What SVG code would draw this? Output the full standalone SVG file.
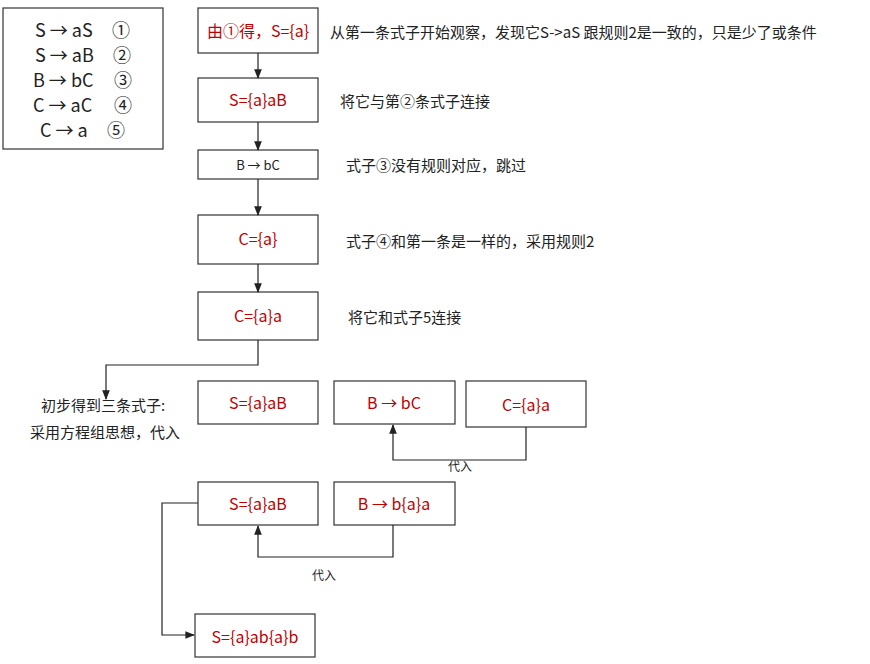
<svg xmlns="http://www.w3.org/2000/svg" width="870" height="664" viewBox="0 0 870 664">
<style>
text{font-family:"Noto Sans CJK SC","Noto Sans",sans-serif}
.b{fill:#fff;stroke:#333;stroke-width:1.2}
.r{fill:#c00000;font-size:16px;text-anchor:middle}
.k{fill:#222;font-size:15px}
.l{fill:#222;font-size:18px}
.c{fill:none;stroke:#222;stroke-width:1.2;marker-end:url(#a)}
</style>
<defs><marker id="a" viewBox="0 0 10 10" refX="9" refY="5" markerWidth="8" markerHeight="8" orient="auto"><path d="M0,1L10,5L0,9z" fill="#222"/></marker></defs>
<rect width="870" height="664" fill="#fff"/>
<g id="legend"><rect class="b" x="3" y="8" width="160" height="141"/>
<text class="l" x="35" y="37">S → aS</text><text class="l" x="112" y="37">①</text>
<text class="l" x="35" y="62">S → aB</text><text class="l" x="113" y="62">②</text>
<text class="l" x="33" y="87">B → bC</text><text class="l" x="114" y="87">③</text>
<text class="l" x="33" y="112">C → aC</text><text class="l" x="114" y="112">④</text>
<text class="l" x="40" y="137">C → a</text><text class="l" x="107" y="137">⑤</text></g>
<g id="n1"><rect class="b" x="198" y="8" width="120" height="45"/><text class="r" x="258" y="37">由①得，S={a}</text></g>
<g id="n2"><rect class="b" x="198" y="78" width="120" height="44"/><text class="r" x="258" y="106">S={a}aB</text></g>
<g id="n3"><rect class="b" x="198" y="150" width="120" height="29"/><text x="258" y="170" style="font-size:13px;text-anchor:middle;fill:#222">B → bC</text></g>
<g id="n4"><rect class="b" x="198" y="215" width="120" height="49"/><text class="r" x="258" y="245">C={a}</text></g>
<g id="n5"><rect class="b" x="198" y="292" width="120" height="48"/><text class="r" x="258" y="322">C={a}a</text></g>
<g id="n6"><rect class="b" x="198" y="381" width="120" height="43"/><text class="r" x="258" y="409">S={a}aB</text></g>
<g id="n7"><rect class="b" x="334" y="381" width="121" height="43"/><text class="r" x="394" y="409">B → bC</text></g>
<g id="n8"><rect class="b" x="466" y="381" width="120" height="46"/><text class="r" x="526" y="411">C={a}a</text></g>
<g id="n9"><rect class="b" x="198" y="482" width="120" height="43"/><text class="r" x="258" y="510">S={a}aB</text></g>
<g id="n10"><rect class="b" x="334" y="482" width="121" height="43"/><text class="r" x="394" y="510">B → b{a}a</text></g>
<g id="n11"><rect class="b" x="195" y="614" width="120" height="43"/><text class="r" x="255" y="643">S={a}ab{a}b</text></g>
<g id="notes">
<text class="k" x="330" y="38">从第一条式子开始观察，发现它S-&gt;aS 跟规则2是一致的，只是少了或条件</text>
<text class="k" x="340" y="107">将它与第②条式子连接</text>
<text class="k" x="346" y="171">式子③没有规则对应，跳过</text>
<text class="k" x="346" y="247">式子④和第一条是一样的，采用规则2</text>
<text class="k" x="348" y="323">将它和式子5连接</text>
<text class="k" x="103" y="411" text-anchor="middle">初步得到三条式子:</text>
<text class="k" x="105" y="438" text-anchor="middle">采用方程组思想，代入</text>
<text x="460" y="471" style="font-size:12px;fill:#222;text-anchor:middle">代入</text>
<text x="324" y="580" style="font-size:12px;fill:#222;text-anchor:middle">代入</text>
</g>
<g id="connectors">
<path class="c" d="M258,53V78"/>
<path class="c" d="M258,122V150"/>
<path class="c" d="M258,179V215"/>
<path class="c" d="M258,264V292"/>
<path class="c" d="M258,340V365H106V399"/>
<path class="c" d="M526,427V460H393V425"/>
<path class="c" d="M393,525V557H258V526"/>
<path class="c" d="M198,503H162V635H194"/>
</g>
</svg>
